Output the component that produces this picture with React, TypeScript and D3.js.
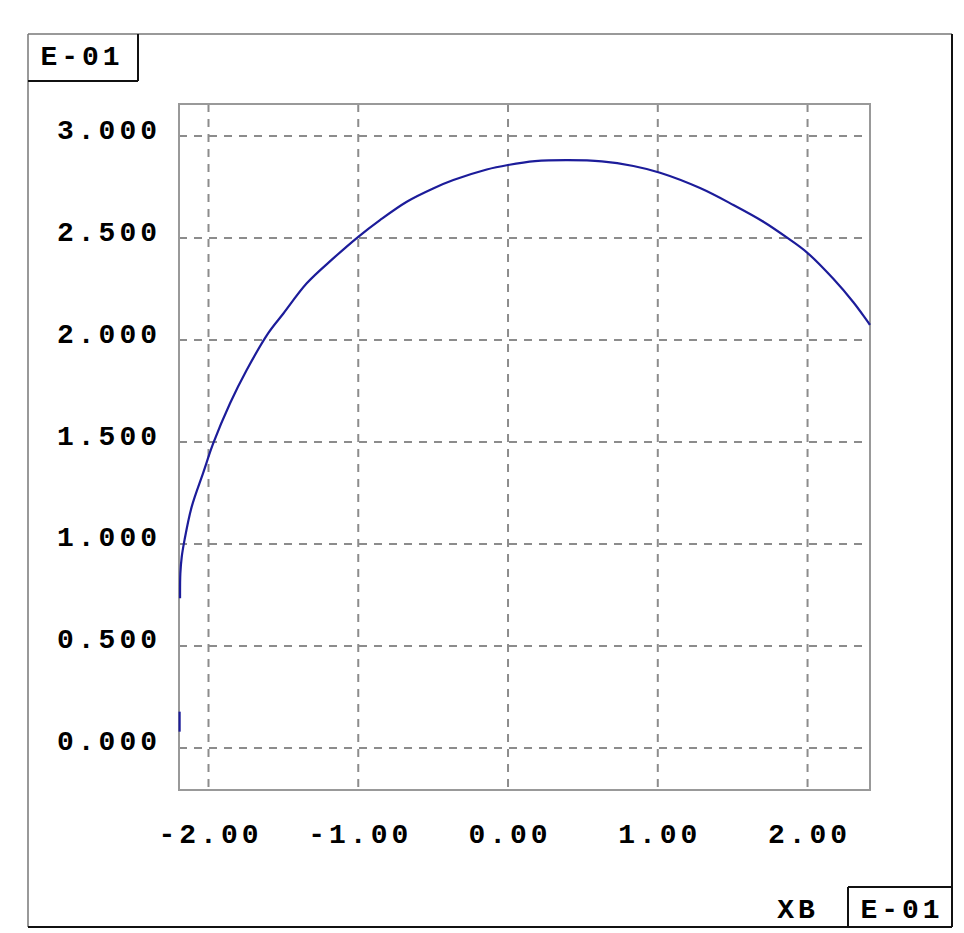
import React from "react";
import * as d3 from "d3";

const xTicks = [-2, -1, 0, 1, 2];
const xTickLabels = ["-2.00", "-1.00", "0.00", "1.00", "2.00"];
const yTicks = [0, 0.5, 1, 1.5, 2, 2.5, 3];
const yTickLabels = ["0.000", "0.500", "1.000", "1.500", "2.000", "2.500", "3.000"];

const curveX = [-2.19, -2.188, -2.179, -2.16, -2.112, -2.035, -1.968, -1.856, -1.745, -1.6, -1.5, -1.344, -1.167, -1.0, -0.855, -0.676, -0.5, -0.365, -0.142, 0.0, 0.18, 0.4, 0.626, 0.837, 1.015, 1.282, 1.505, 1.705, 1.861, 1.995, 2.172, 2.306, 2.417];
const curveY = [0.734, 0.855, 0.935, 1.02, 1.183, 1.35, 1.494, 1.69, 1.853, 2.035, 2.13, 2.278, 2.4, 2.506, 2.588, 2.678, 2.743, 2.784, 2.836, 2.858, 2.877, 2.882, 2.876, 2.853, 2.82, 2.745, 2.662, 2.58, 2.503, 2.43, 2.3, 2.185, 2.074];
const tailX = [-2.193, -2.193];
const tailY = [0.08, 0.178];

const xExp = "E-01";
const yExp = "E-01";
const xName = "XB";

const W = 964;
const H = 933;
const PL = 179, PR = 870, PT = 104, PB = 790;

export default function App() {
  const x = d3.scaleLinear().domain([-2.197, 2.417]).range([PL, PR]);
  const y = d3.scaleLinear().domain([-0.206, 3.157]).range([PB, PT]);
  const line = d3.line<[number, number]>().x(d => x(d[0])).y(d => y(d[1])).curve(d3.curveCatmullRom.alpha(0.5));
  const main = curveX.map((v, i) => [v, curveY[i]] as [number, number]);
  const tail = tailX.map((v, i) => [v, tailY[i]] as [number, number]);
  const font = { fontFamily: "'Liberation Mono', 'DejaVu Sans Mono', monospace", fontSize: 28, fontWeight: 700, letterSpacing: 4 } as any;
  const grid = "#8c8c8c";
  return (
    <svg width={W} height={H} style={{ position: "absolute", left: 0, top: 0, background: "#fff" }}>
      <rect x={0} y={0} width={W} height={H} fill="#fff" />
      {/* outer frame */}
      <line x1={28} y1={34} x2={952} y2={34} stroke="#777" strokeWidth={1.5} />
      <line x1={28} y1={34} x2={28} y2={927} stroke="#777" strokeWidth={1.5} />
      <line x1={952} y1={34} x2={952} y2={927} stroke="#111" strokeWidth={2} />
      <line x1={28} y1={927} x2={952} y2={927} stroke="#111" strokeWidth={2} />
      {/* top-left exponent box */}
      <line x1={138} y1={34} x2={138} y2={81} stroke="#111" strokeWidth={2} />
      <line x1={28} y1={81} x2={138} y2={81} stroke="#111" strokeWidth={2} />
      <text x={82} y={57} textAnchor="middle" dominantBaseline="central" {...font}>{yExp}</text>
      {/* bottom-right exponent box */}
      <line x1={848} y1={887} x2={952} y2={887} stroke="#111" strokeWidth={2} />
      <line x1={848} y1={887} x2={848} y2={927} stroke="#111" strokeWidth={2} />
      <text x={902} y={910} textAnchor="middle" dominantBaseline="central" {...font}>{xExp}</text>
      <text x={798} y={910} textAnchor="middle" dominantBaseline="central" {...font}>{xName}</text>
      {/* grid */}
      {xTicks.map(t => (
        <line key={"gx" + t} x1={x(t)} x2={x(t)} y1={PT} y2={PB} stroke={grid} strokeWidth={2} strokeDasharray="8,7" />
      ))}
      {yTicks.map(t => (
        <line key={"gy" + t} x1={PL} x2={PR} y1={y(t)} y2={y(t)} stroke={grid} strokeWidth={2} strokeDasharray="8,7" />
      ))}
      {/* plot box */}
      <rect x={PL} y={PT} width={PR - PL} height={PB - PT} fill="none" stroke="#999" strokeWidth={2} />
      {/* curve */}
      <path d={line(main) || ""} fill="none" stroke="#1c1c9a" strokeWidth={2.2} />
      <path d={line(tail) || ""} fill="none" stroke="#1c1c9a" strokeWidth={2.2} />
      {/* tick labels */}
      {yTicks.map((t, i) => (
        <text key={"ly" + t} x={161} y={y(t) - 5} textAnchor="end" dominantBaseline="central" {...font}>{yTickLabels[i]}</text>
      ))}
      {xTicks.map((t, i) => (
        <text key={"lx" + t} x={x(t) + 2} y={835} textAnchor="middle" dominantBaseline="central" {...font}>{xTickLabels[i]}</text>
      ))}
    </svg>
  );
}
